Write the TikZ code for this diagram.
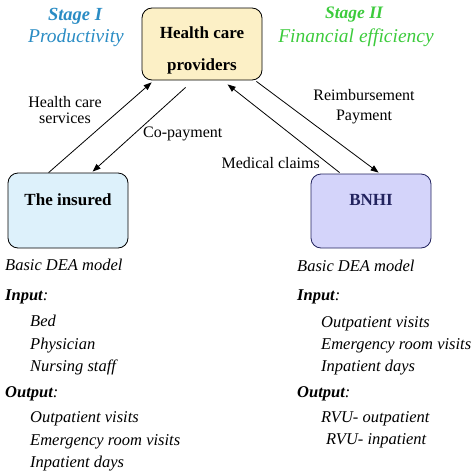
\documentclass[tikz,border=0pt]{standalone}
\usepackage{fontspec}
\setmainfont{Liberation Serif}
\usetikzlibrary{arrows.meta,calc}
\definecolor{provfill}{HTML}{FCF0C6}
\definecolor{insfill}{HTML}{DDF1FB}
\definecolor{bnhifill}{HTML}{D4D4FA}
\definecolor{bnhiline}{HTML}{22235E}
\definecolor{stageone}{HTML}{2A8CC4}
\definecolor{stagetwo}{HTML}{3CCB3C}
\begin{document}
\begin{tikzpicture}[x=1pt,y=-1pt,
		box/.style={draw,thick,rounded corners=10pt,inner sep=0pt},
		boxtext/.style={anchor=base,font=\fontsize{17}{20}\selectfont\bfseries},
		flow/.style={-{Triangle[length=8pt,width=6pt]},thick},
		lab/.style={font=\fontsize{16}{18}\selectfont,inner sep=0pt},
		dea/.style={font=\fontsize{16.5}{19}\selectfont\itshape,anchor=base west,inner sep=0pt}]
	\useasboundingbox (0,0) rectangle (474,474);
	% the three parties
	\node[box,fill=provfill,minimum width=120pt,minimum height=72pt] (hcp) at (202,44) {};
	\node[box,fill=insfill,minimum width=120pt,minimum height=75pt] (insured) at (68,210.5) {};
	\node[box,draw=bnhiline,fill=bnhifill,minimum width=120pt,minimum height=74pt] (bnhi) at (371,211) {};
	\node[boxtext] (hcpa) at (202,38) {Health care};
	\node[boxtext] (hcpb) at (202,70) {providers};
	\node[boxtext] (insa) at (68,205) {The insured};
	\node[boxtext,text=bnhiline] (bnhia) at (371,205) {BNHI};
	% stages
	\node[anchor=base,text=stageone,font=\fontsize{18.5}{21}\selectfont\bfseries\itshape] (st1) at (75,20) {Stage I};
	\node[anchor=base,text=stageone,font=\fontsize{19.5}{22}\selectfont\itshape] (pr1) at (76,42) {Productivity};
	\node[anchor=base,text=stagetwo,font=\fontsize{17.5}{20}\selectfont\bfseries\itshape] (st2) at (354,18) {Stage II};
	\node[anchor=base,text=stagetwo,font=\fontsize{19.5}{22}\selectfont\itshape] (fe2) at (356,42) {Financial efficiency};
	% flows
	\coordinate (a1) at ($(insured.north west)+(41,0)$);
	\coordinate (b1) at ($(hcp.south west)+(10,2)$);
	\draw[flow] (a1) -- (b1);
	\coordinate (a2) at ($(hcp.south west)+(44,7)$);
	\coordinate (b2) at ($(insured.north west)+(85,-1)$);
	\draw[flow] (a2) -- (b2);
	\coordinate (a3) at ($(bnhi.north west)+(29,-1)$);
	\coordinate (b3) at ($(hcp.south west)+(86,4)$);
	\draw[flow] (a3) -- (b3);
	\coordinate (a4) at ($(hcp.south east)+(-6,1)$);
	\coordinate (b4) at ($(bnhi.north west)+(68,-1)$);
	\draw[flow] (a4) -- (b4);
	\node[lab,anchor=base] (svc) at (65,107) {Health care};
	\node[lab,anchor=base] (svc2) at (65,123) {services};
	\node[lab,anchor=base west] (cop) at (143,137) {Co-payment};
	\node[lab,anchor=base] (reim) at (364,100) {Reimbursement};
	\node[lab,anchor=base] (pay) at (364,120) {Payment};
	\node[lab,anchor=base east] (clm) at (320,168) {Medical claims};
	% stage I model
	\node[dea] (l0) at (5,270) {Basic DEA model};
	\node[dea] (l1) at (5,300) {\textbf{Input}:};
	\node[dea] (l2) at (30,326) {Bed};
	\node[dea] (l3) at (30,349) {Physician};
	\node[dea] (l4) at (30,371) {Nursing staff};
	\node[dea] (l5) at (5,397) {\textbf{Output}:};
	\node[dea] (l6) at (30,422) {Outpatient visits};
	\node[dea] (l7) at (30,445) {Emergency room visits};
	\node[dea] (l8) at (30,467) {Inpatient days};
	% stage II model
	\node[dea] (r0) at (297,271) {Basic DEA model};
	\node[dea] (r1) at (297,300) {\textbf{Input}:};
	\node[dea] (r2) at (321,327) {Outpatient visits};
	\node[dea] (r3) at (321,349) {Emergency room visits};
	\node[dea] (r4) at (321,371) {Inpatient days};
	\node[dea] (r5) at (297,397) {\textbf{Output}:};
	\node[dea] (r6) at (321,422) {RVU- outpatient};
	\node[dea] (r7) at (326,444) {RVU- inpatient};
\end{tikzpicture}
\end{document}
